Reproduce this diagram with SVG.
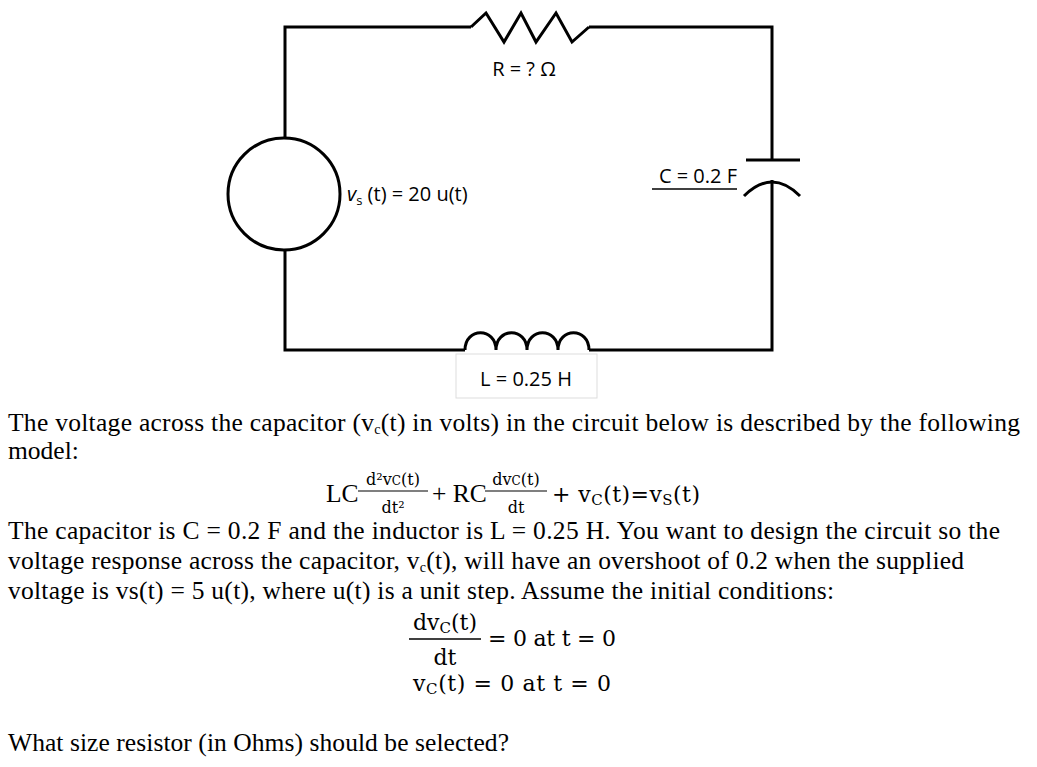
<svg xmlns="http://www.w3.org/2000/svg" width="1037" height="767" viewBox="0 0 1037 767" xml:space="preserve">
<style>
.w{fill:none;stroke:#000;stroke-width:3;stroke-linejoin:miter}
.c{font-family:"Open Sans","Liberation Sans",sans-serif;font-size:20px;fill:#000}
.t{font-family:"Liberation Serif",serif;font-size:25.5px;fill:#000}
.m{font-family:"DejaVu Serif","Liberation Serif",serif;fill:#000}
</style>
<rect width="1037" height="767" fill="#fff"/>
<g id="connectors">
<polyline class="w" points="471,27 285,27 285,138"/>
<polyline class="w" points="589,27 772,27 772,160"/>
<polyline class="w" points="772,180 772,350 589,350"/>
<polyline class="w" points="465,350 285,350 285,250"/>
</g>
<g id="source"><circle class="w" cx="284" cy="194" r="56"/>
<text class="c" x="347" y="201"><tspan font-style="italic">v</tspan><tspan font-size="13" dy="4">s</tspan><tspan dy="-4"> (t) = 20 u(t)</tspan></text></g>
<g id="resistor"><polyline class="w" points="471,27 486,13 504,42 521,13 536,42 556,13 572,42 589,27"/>
<text class="c" x="524" y="76" text-anchor="middle">R = ? Ω</text></g>
<g id="capacitor"><line class="w" x1="746" y1="160" x2="800" y2="160"/>
<path class="w" d="M744,196 Q772,168 800,196"/>
<text class="c" x="737" y="183" text-anchor="end">C = 0.2 F</text>
<line x1="652" y1="189" x2="737" y2="189" stroke="#000" stroke-width="1.5"/></g>
<g id="inductor"><path class="w" d="M465,350 C465,327 496,327 496,350 C496,327 527,327 527,350 C527,327 558,327 558,350 C558,327 589,327 589,350"/>
<rect x="456" y="354" width="141" height="44" fill="none" stroke="#ddd" stroke-width="1"/>
<text class="c" x="526" y="386" text-anchor="middle">L = 0.25 H</text></g>
<g id="text">
<text class="t" x="8" y="431" textLength="1012" lengthAdjust="spacing">The voltage across the capacitor (v<tspan font-size="14" dy="3">c</tspan><tspan dy="-3">(t) in volts) in the circuit below is described by the following</tspan></text>
<text class="t" x="8" y="459">model:</text>
<text class="t" x="326" y="502">LC</text>
<text class="m" x="393" y="485" font-size="16" text-anchor="middle">d²v<tspan font-size="12">C</tspan>(t)</text>
<line x1="358" y1="491" x2="428" y2="491" stroke="#000" stroke-width="1.2"/>
<text class="m" x="393" y="513" font-size="16" text-anchor="middle">dt²</text>
<text class="t" x="432" y="502">+ RC</text>
<text class="m" x="516" y="485" font-size="16" text-anchor="middle">dv<tspan font-size="12">C</tspan>(t)</text>
<line x1="485" y1="491" x2="547" y2="491" stroke="#000" stroke-width="1.2"/>
<text class="m" x="516" y="513" font-size="16" text-anchor="middle">dt</text>
<text class="m" x="552" y="502" font-size="22" textLength="148">+ v<tspan font-size="15" dy="3">C</tspan><tspan dy="-3">(t)=v</tspan><tspan font-size="15" dy="3">S</tspan><tspan dy="-3">(t)</tspan></text>
<text class="t" x="8" y="539" textLength="992" lengthAdjust="spacing">The capacitor is C = 0.2 F and the inductor is L = 0.25 H.  You want to design the circuit so the</text>
<text class="t" x="8" y="569" textLength="956" lengthAdjust="spacing">voltage response across the capacitor, v<tspan font-size="14" dy="3">c</tspan><tspan dy="-3">(t), will have an overshoot of 0.2 when the supplied</tspan></text>
<text class="t" x="8" y="599" textLength="826" lengthAdjust="spacing">voltage is vs(t) = 5 u(t), where u(t) is a unit step.  Assume the initial conditions:</text>
<text class="m" x="445" y="630" font-size="22" text-anchor="middle">dv<tspan font-size="15" dy="3">C</tspan><tspan dy="-3">(t)</tspan></text>
<line x1="409" y1="639" x2="481" y2="639" stroke="#000" stroke-width="1.3"/>
<text class="m" x="445" y="665" font-size="22" text-anchor="middle">dt</text>
<text class="m" x="488" y="646" font-size="22" textLength="128">= 0 at t = 0</text>
<text class="m" x="413" y="691" font-size="22" textLength="198">v<tspan font-size="15" dy="3">C</tspan><tspan dy="-3">(t) = 0 at t = 0</tspan></text>
<text class="t" x="8" y="751" textLength="501" lengthAdjust="spacing">What size resistor (in Ohms) should be selected?</text>
</g>
</svg>
